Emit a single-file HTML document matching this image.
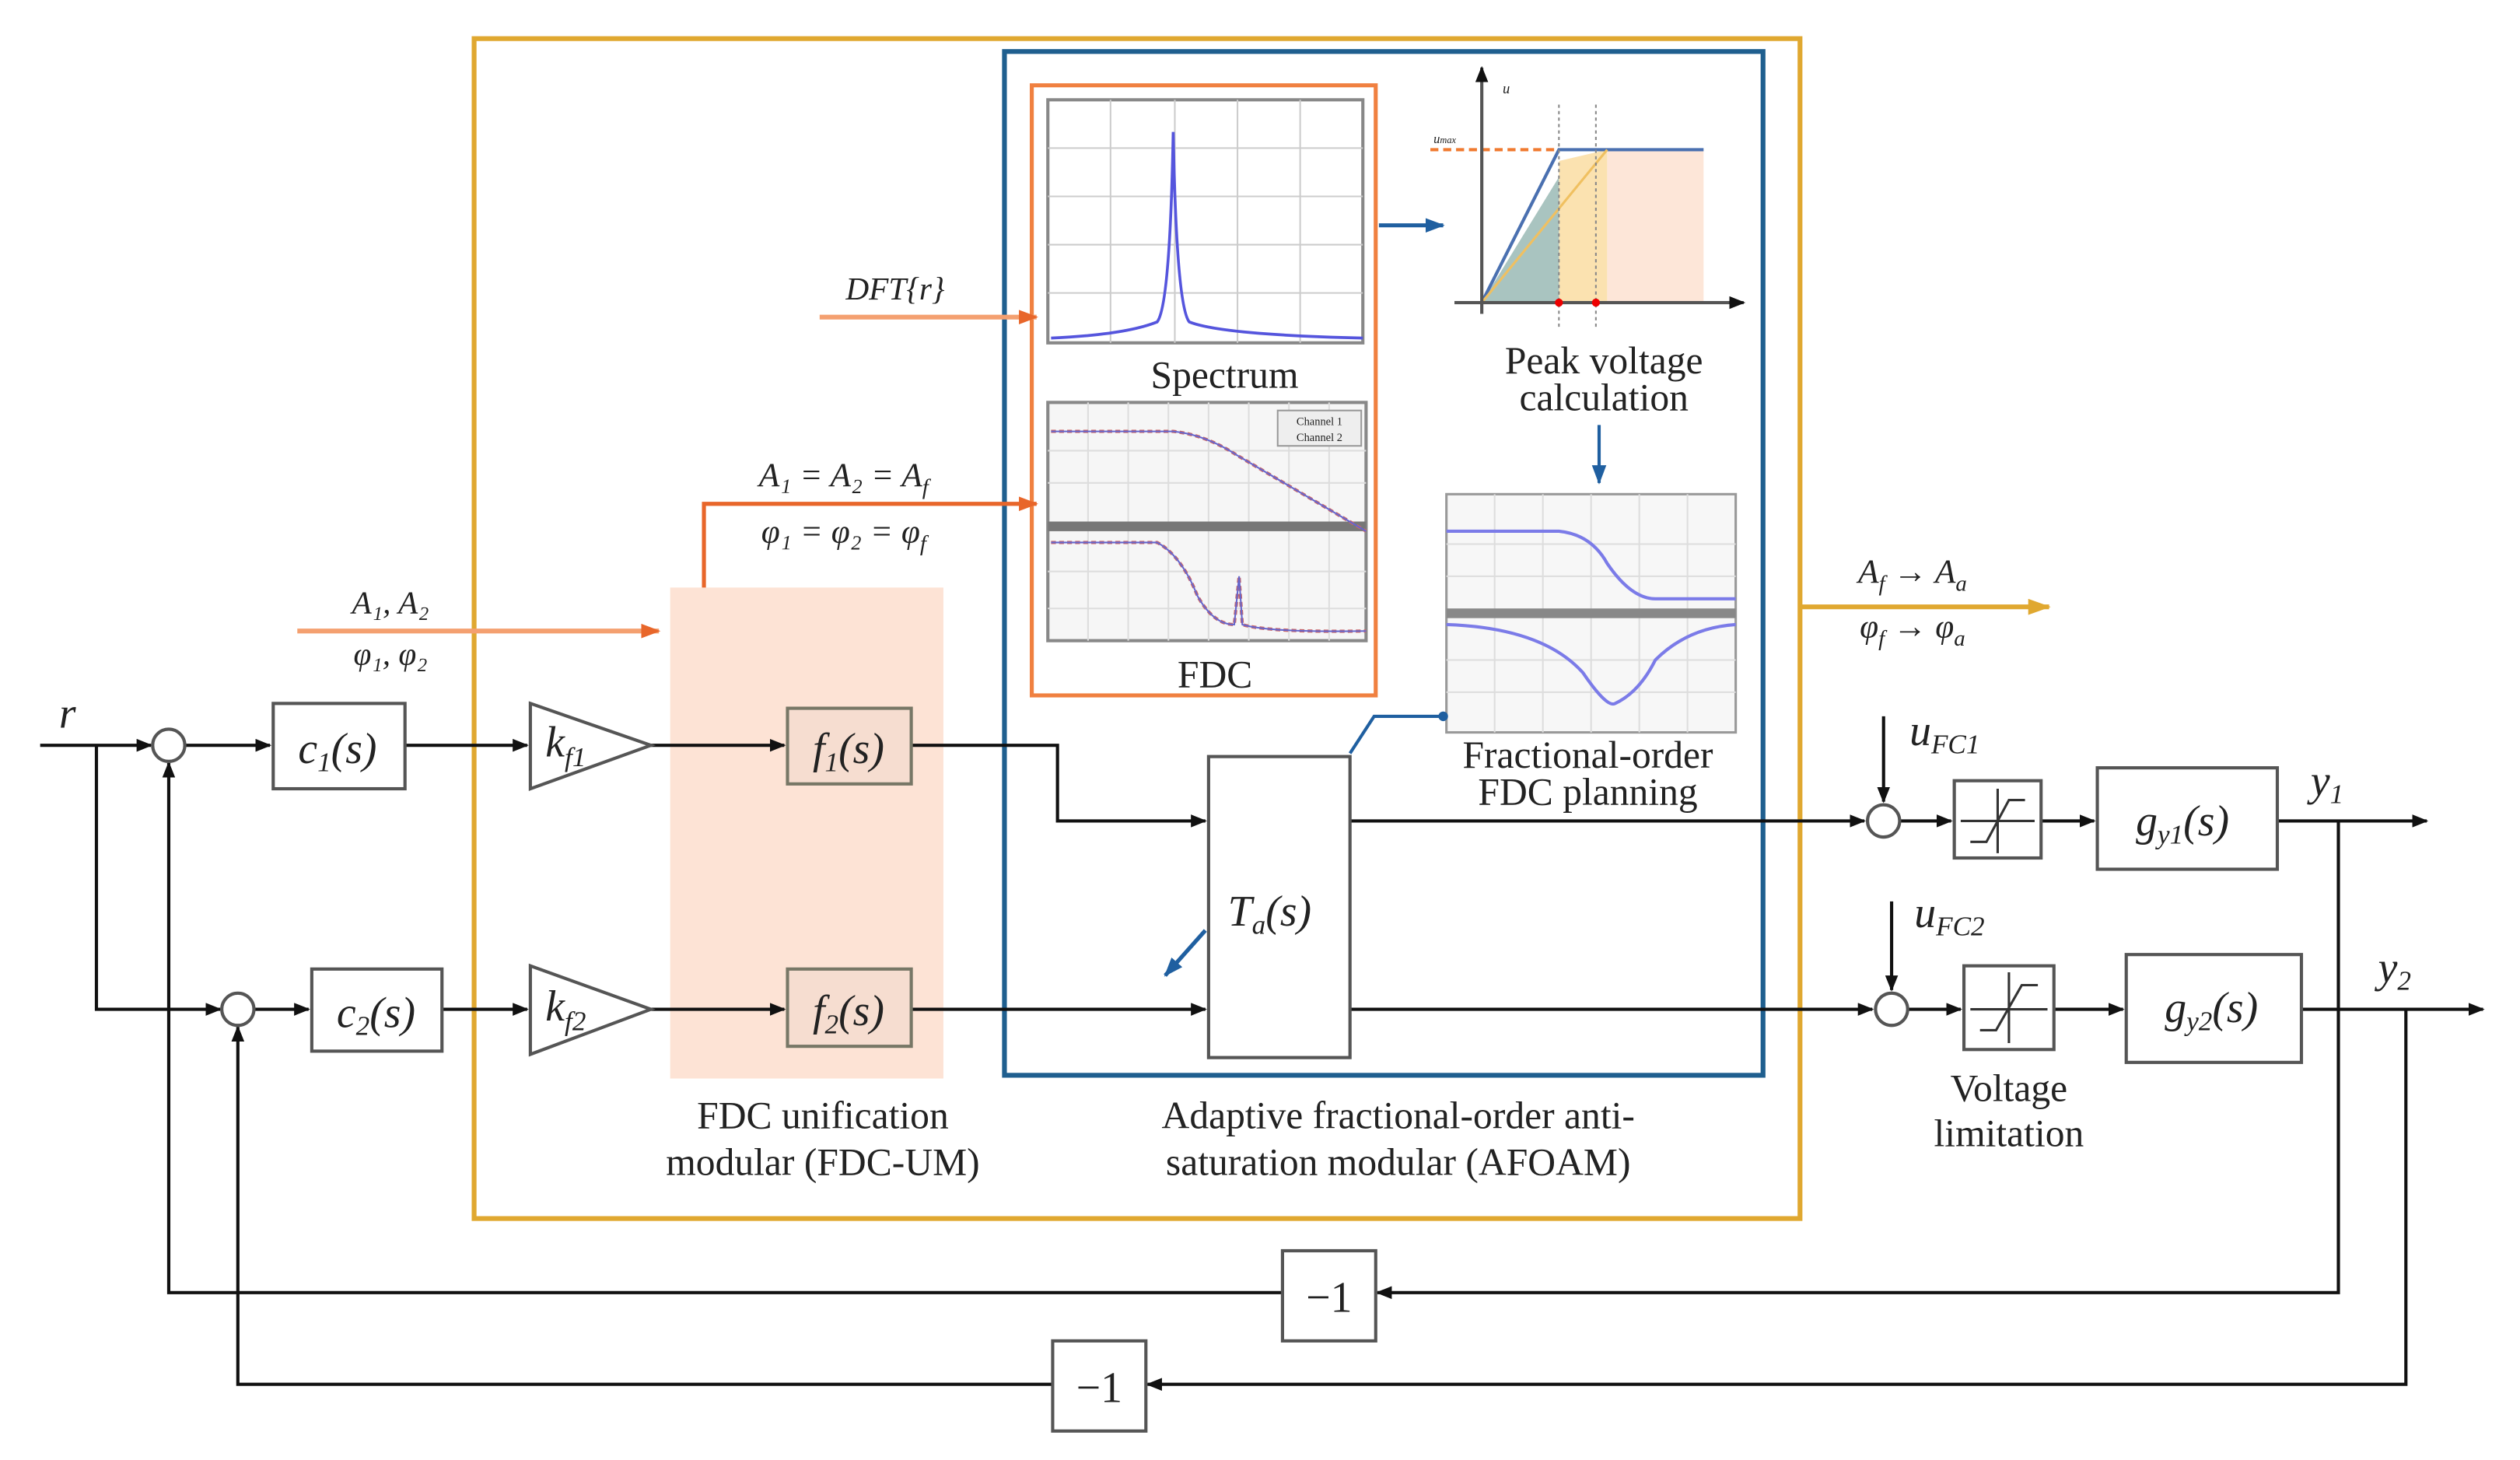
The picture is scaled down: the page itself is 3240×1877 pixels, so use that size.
<!DOCTYPE html>
<html><head><meta charset="utf-8"><style>
html,body{margin:0;padding:0;background:#fff;}
svg{display:block;}
text{font-family:"Liberation Serif",serif;fill:#222;}
.m{font-style:italic;}
</style></head><body>
<svg width="3240" height="1877" viewBox="0 0 1568 907" preserveAspectRatio="none" xmlns="http://www.w3.org/2000/svg">
<defs>
<marker id="a" markerWidth="10" markerHeight="8" refX="9" refY="4" orient="auto" markerUnits="userSpaceOnUse"><path d="M0,0 L10,4 L0,8 z" fill="#111"/></marker>
<marker id="ao" markerWidth="12" markerHeight="9" refX="11" refY="4.5" orient="auto" markerUnits="userSpaceOnUse"><path d="M0,0 L12,4.5 L0,9 z" fill="#e8662a"/></marker>
<marker id="ay" markerWidth="14" markerHeight="10" refX="13" refY="5" orient="auto" markerUnits="userSpaceOnUse"><path d="M0,0 L14,5 L0,10 z" fill="#e0a830"/></marker>
<marker id="ab" markerWidth="12" markerHeight="9" refX="11" refY="4.5" orient="auto" markerUnits="userSpaceOnUse"><path d="M0,0 L12,4.5 L0,9 z" fill="#1f5fa0"/></marker>
</defs>
<rect width="1568" height="907" fill="#fff"/>
<rect x="417" y="365" width="170" height="305" fill="#fde3d5"/>
<rect x="295" y="24" width="825" height="733" fill="none" stroke="#e0a830" stroke-width="3"/>
<rect x="625" y="32" width="472" height="636" fill="none" stroke="#1f5f8f" stroke-width="3"/>
<rect x="642" y="53" width="214" height="379" fill="none" stroke="#f08040" stroke-width="2.5"/>
<g stroke="#ccc" stroke-width="1">
<rect x="652" y="62" width="196" height="151" fill="#fff" stroke="#888" stroke-width="2"/>
<path d="M691,62V213M731,62V213M770,62V213M809,62V213M652,92H848M652,122H848M652,152H848M652,182H848"/>
</g>
<path d="M654,210 Q700,208 720,200 Q728,190 730,82 Q732,190 740,200 Q760,208 848,210" fill="none" stroke="#5555dd" stroke-width="1.8"/>
<text x="762" y="241" font-size="24" text-anchor="middle">Spectrum</text>
<rect x="652" y="250" width="198" height="148" fill="#f6f6f6" stroke="#888" stroke-width="2"/>
<g stroke="#ddd"><path d="M677,250V398M702,250V398M727,250V398M752,250V398M777,250V398M802,250V398M827,250V398M652,280H850M652,300H850M652,355H850M652,378H850"/></g>
<rect x="652" y="324" width="198" height="6" fill="#777"/>
<rect x="795" y="255" width="52" height="22" fill="#eee" stroke="#999"/>
<text x="821" y="264" font-size="7" text-anchor="middle">Channel 1</text><text x="821" y="274" font-size="7" text-anchor="middle">Channel 2</text>
<path d="M654,268 H730 Q750,270 770,283 L850,330" fill="none" stroke="#c66" stroke-width="2" stroke-dasharray="3,2"/>
<path d="M654,268 H730 Q750,270 770,283 L850,330" fill="none" stroke="#66c" stroke-width="1"/>
<path d="M654,337 H720 Q735,345 745,370 Q755,388 768,388 L771,358 L773,388 Q790,393 850,392" fill="none" stroke="#c66" stroke-width="2" stroke-dasharray="3,2"/>
<path d="M654,337 H720 Q735,345 745,370 Q755,388 768,388 L771,358 L773,388 Q790,393 850,392" fill="none" stroke="#66c" stroke-width="1"/>
<text x="756" y="427" font-size="24" text-anchor="middle">FDC</text>
<polygon points="1000,93 1060,93 1060,188 1000,188" fill="#fde6d8"/>
<polygon points="970,100 1000,93 1000,188 970,188" fill="#fbe2b0"/>
<polygon points="922,188 970,110 970,188" fill="#a9c4c0"/>
<path d="M922,188 L970,93 L1060,93" fill="none" stroke="#4a70b0" stroke-width="2"/>
<path d="M922,188 L1000,93" fill="none" stroke="#f0c060" stroke-width="1.5"/>
<path d="M890,93 H970" stroke="#f07a30" stroke-width="2" stroke-dasharray="5,3"/>
<path d="M970,65 V205 M993,65 V205" stroke="#888" stroke-dasharray="2,2"/>
<path d="M922,195 V42" stroke="#555" stroke-width="2" marker-end="url(#a)"/>
<path d="M905,188 H1085" stroke="#555" stroke-width="2" marker-end="url(#a)"/>
<circle cx="970" cy="188" r="2.5" fill="#e00"/><circle cx="993" cy="188" r="2.5" fill="#e00"/>
<text x="935" y="58" font-size="9" class="m">u</text><text x="892" y="89" font-size="8" class="m">u<tspan font-size="6">max</tspan></text>
<text x="998" y="232" font-size="24" text-anchor="middle">Peak voltage</text>
<text x="998" y="255" font-size="24" text-anchor="middle">calculation</text>
<path d="M858,140 H898" stroke="#1f5fa0" stroke-width="2.5" marker-end="url(#ab)"/>
<path d="M995,264 V300" stroke="#1f5fa0" stroke-width="2" marker-end="url(#ab)"/>
<rect x="900" y="307" width="180" height="148" fill="#f7f7f7" stroke="#999" stroke-width="1.5"/>
<g stroke="#ddd"><path d="M930,307V455M960,307V455M990,307V455M1020,307V455M1050,307V455M900,338H1080M900,358H1080M900,410H1080M900,430H1080"/></g>
<rect x="900" y="378" width="180" height="6" fill="#888"/>
<path d="M900,330 H970 Q990,332 1000,350 Q1015,372 1030,372 H1080" fill="none" stroke="#7b7be8" stroke-width="2"/>
<path d="M900,388 Q960,390 985,418 Q1000,440 1005,437 Q1020,430 1030,410 Q1050,390 1080,388" fill="none" stroke="#7b7be8" stroke-width="2"/>
<text x="988" y="477" font-size="24" text-anchor="middle">Fractional-order</text>
<text x="988" y="500" font-size="24" text-anchor="middle">FDC planning</text>
<path d="M840,468 L855,445 H898" fill="none" stroke="#1f5fa0" stroke-width="2"/><circle cx="898" cy="445" r="3" fill="#1f5fa0"/>
<path d="M750,578 L725,606" stroke="#1f5fa0" stroke-width="2.5" marker-end="url(#ab)"/>
<path d="M510,197 H645" stroke="#f4a070" stroke-width="3" marker-end="url(#ao)"/>
<text x="557" y="186" font-size="20" class="m" text-anchor="middle">DFT{r}</text>
<path d="M438,365 V313 H645" fill="none" stroke="#e8662a" stroke-width="2.5" marker-end="url(#ao)"/>
<text x="525" y="302" font-size="21" class="m" text-anchor="middle">A₁ = A₂ = A<tspan font-size="14" dy="5">f</tspan></text>
<text x="525" y="337" font-size="21" class="m" text-anchor="middle">φ₁ = φ₂ = φ<tspan font-size="14" dy="5">f</tspan></text>
<path d="M185,392 H410" stroke="#f4a070" stroke-width="3" marker-end="url(#ao)"/>
<text x="243" y="381" font-size="20" class="m" text-anchor="middle">A₁, A₂</text>
<text x="243" y="413" font-size="20" class="m" text-anchor="middle">φ₁, φ₂</text>
<path d="M1120,377 H1275" stroke="#e0a830" stroke-width="3" marker-end="url(#ay)"/>
<text x="1190" y="362" font-size="21" class="m" text-anchor="middle">A<tspan font-size="14" dy="5">f</tspan><tspan dy="-5"> → A</tspan><tspan font-size="14" dy="5">a</tspan></text>
<text x="1190" y="396" font-size="21" class="m" text-anchor="middle">φ<tspan font-size="14" dy="5">f</tspan><tspan dy="-5"> → φ</tspan><tspan font-size="14" dy="5">a</tspan></text>
<g stroke="#111" stroke-width="2" fill="none">
<path d="M25,463 H94" marker-end="url(#a)"/>
<path d="M115,463 H168" marker-end="url(#a)"/>
<path d="M252,463 H328" marker-end="url(#a)"/>
<path d="M405,463 H488" marker-end="url(#a)"/>
<path d="M567,463 H658 V510 H750" marker-end="url(#a)"/>
<path d="M840,510 H1160" marker-end="url(#a)"/>
<path d="M1182,510 H1214" marker-end="url(#a)"/>
<path d="M1270,510 H1303" marker-end="url(#a)"/>
<path d="M1417,510 H1510" marker-end="url(#a)"/>
<path d="M60,463 V627 H137" marker-end="url(#a)"/>
<path d="M158,627 H192" marker-end="url(#a)"/>
<path d="M275,627 H328" marker-end="url(#a)"/>
<path d="M405,627 H488" marker-end="url(#a)"/>
<path d="M567,627 H750" marker-end="url(#a)"/>
<path d="M840,627 H1165" marker-end="url(#a)"/>
<path d="M1187,627 H1220" marker-end="url(#a)"/>
<path d="M1278,627 H1321" marker-end="url(#a)"/>
<path d="M1432,627 H1545" marker-end="url(#a)"/>
<path d="M1172,445 V498" marker-end="url(#a)"/>
<path d="M1177,560 V615" marker-end="url(#a)"/>
<path d="M1455,510 V803 H857" marker-end="url(#a)"/>
<path d="M798,803 H105 V474" marker-end="url(#a)"/>
<path d="M1497,627 V860 H714" marker-end="url(#a)"/>
<path d="M655,860 H148 V638" marker-end="url(#a)"/>
</g>
<g fill="#fff" stroke="#555" stroke-width="2">
<circle cx="105" cy="463" r="10"/><circle cx="148" cy="627" r="10"/>
<circle cx="1172" cy="510" r="10"/><circle cx="1177" cy="627" r="10"/>
<rect x="170" y="437" width="82" height="53"/>
<rect x="194" y="602" width="81" height="51"/>
<polygon points="330,437 405,463 330,490"/>
<polygon points="330,600 405,627 330,655"/>
<rect x="490" y="440" width="77" height="47" fill="#f6ddd0" stroke="#776"/>
<rect x="490" y="602" width="77" height="48" fill="#f6ddd0" stroke="#776"/>
<rect x="752" y="470" width="88" height="187"/>
<rect x="1216" y="485" width="54" height="48"/>
<rect x="1222" y="600" width="56" height="52"/>
<rect x="1305" y="477" width="112" height="63"/>
<rect x="1323" y="593" width="109" height="67"/>
<rect x="798" y="777" width="58" height="56"/>
<rect x="655" y="833" width="58" height="56"/>
</g>
<g stroke="#333" stroke-width="1.5" fill="none">
<path d="M1226,523 L1236,523 L1250,497 L1260,497 M1243,490 V530 M1220,510 H1266"/>
<path d="M1232,640 L1242,640 L1258,612 L1268,612 M1250,604 V648 M1226,627 H1274"/>
</g>
<g class="m" font-size="27" text-anchor="middle">
<text x="42" y="452" class="m">r</text>
<text x="210" y="474" class="m">c<tspan font-size="17" dy="5">1</tspan><tspan dy="-5">(s)</tspan></text>
<text x="234" y="638" class="m">c<tspan font-size="17" dy="5">2</tspan><tspan dy="-5">(s)</tspan></text>
<text x="352" y="470" class="m">k<tspan font-size="17" dy="6">f1</tspan></text>
<text x="352" y="634" class="m">k<tspan font-size="17" dy="6">f2</tspan></text>
<text x="528" y="474" class="m">f<tspan font-size="17" dy="5">1</tspan><tspan dy="-5">(s)</tspan></text>
<text x="528" y="637" class="m">f<tspan font-size="17" dy="5">2</tspan><tspan dy="-5">(s)</tspan></text>
<text x="790" y="575" class="m">T<tspan font-size="17" dy="5">a</tspan><tspan dy="-5">(s)</tspan></text>
<text x="1358" y="519" class="m">g<tspan font-size="17" dy="5">y1</tspan><tspan dy="-5">(s)</tspan></text>
<text x="1376" y="635" class="m">g<tspan font-size="17" dy="5">y2</tspan><tspan dy="-5">(s)</tspan></text>
<text x="1448" y="494" class="m">y<tspan font-size="17" dy="5">1</tspan></text>
<text x="1490" y="610" class="m">y<tspan font-size="17" dy="5">2</tspan></text>
<text x="1210" y="463" class="m">u<tspan font-size="17" dy="5">FC1</tspan></text>
<text x="1213" y="576" class="m">u<tspan font-size="17" dy="5">FC2</tspan></text>
<text x="827" y="815" font-style="normal">−1</text>
<text x="684" y="871" font-style="normal">−1</text>
</g>
<g font-size="24" text-anchor="middle">
<text x="512" y="701">FDC unification</text>
<text x="512" y="730">modular (FDC-UM)</text>
<text x="870" y="701">Adaptive fractional-order anti-</text>
<text x="870" y="730">saturation modular (AFOAM)</text>
<text x="1250" y="684">Voltage</text>
<text x="1250" y="712">limitation</text>
</g>
</svg>
</body></html>
